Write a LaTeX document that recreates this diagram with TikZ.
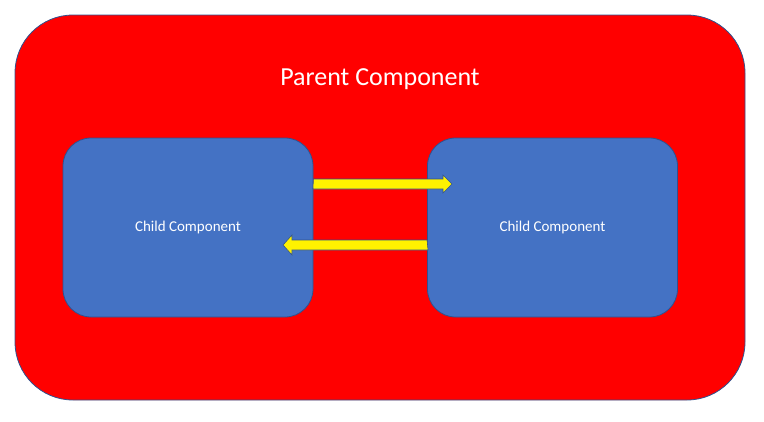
\documentclass[tikz,border=0pt]{standalone}
\usepackage{fontspec}
\setmainfont{Carlito}
\definecolor{cblue}{HTML}{4472C4}
\definecolor{cedge}{HTML}{2F528F}
\begin{document}
\begin{tikzpicture}[x=1pt,y=-1pt,
  parentbox/.style={draw=cedge,line width=0.8pt,fill=red,rounded corners=58pt,minimum width=730pt,minimum height=385pt,inner sep=0pt},
  childbox/.style={draw=cedge,line width=0.8pt,fill=cblue,rounded corners=28pt,minimum width=250pt,minimum height=179pt,inner sep=0pt,text=white,font=\fontsize{15}{18}\selectfont},
  blockarrow/.style={draw=cedge,line width=0.6pt,fill=yellow}]
\useasboundingbox (0,0) rectangle (764,421);
\node[parentbox] (parent) at (380,207.5) {};
\node[text=white,font=\fontsize{26}{30}\selectfont] (title) at (380,79) {Parent Component};
\node[childbox] (left) at (188,227.5) {Child Component};
\node[childbox] (right) at (552.5,227.5) {Child Component};
\coordinate (a1) at (left.east |- 0,184);
\coordinate (a2) at (right.west |- 0,245);
\draw[blockarrow] (a1) ++(0,-5) -- (443,179) -- (443,175) -- (452,184) -- (443,193) -- (443,189) -- (313,189) -- cycle;
\draw[blockarrow] (a2) ++(0,-5) -- (292,240) -- (292,235) -- (283,245) -- (292,255) -- (292,250) -- (428,250) -- cycle;
\end{tikzpicture}
\end{document}
